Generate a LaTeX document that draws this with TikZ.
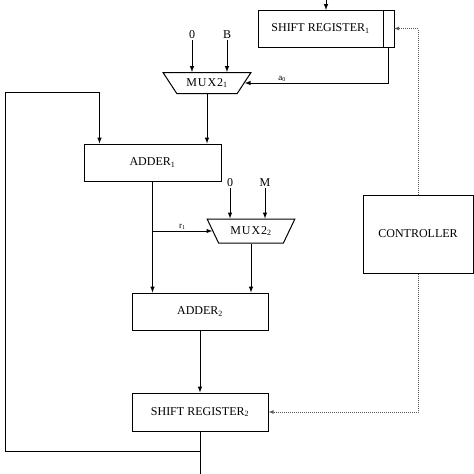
\documentclass[tikz,border=0pt]{standalone}
\usepackage{fontspec}
\setmainfont{Liberation Serif}
\usetikzlibrary{shapes.geometric, calc}
\newcommand{\subidx}[1]{\textsubscript{#1}}

\begin{document}
\begin{tikzpicture}[x = 1pt, y = -1pt, font = \fontsize{12}{14}\selectfont,
  blk/.style = {draw, line width = 1pt, minimum width = 136pt, minimum height = 37pt, inner sep = 0pt},
  mux/.style = {draw, line width = 1pt, trapezium, shape border rotate = 180, trapezium stretches = true,
    inner sep = 0pt, minimum width = 88pt, font = \fontsize{12}{14}\selectfont\addfontfeature{LetterSpace = 8}},
  conn/.style = {line width = 1pt, -latex},
  ctl/.style = {line width = 0.8pt, dash pattern = on 1pt off 1pt, color = gray!70!black, -latex},
  lbl/.style = {inner sep = 1pt, font = \small}]
\useasboundingbox (0, 0) rectangle (474, 474);
%\draw[very thin, color = gray](0, 0) grid[step = 50] (474, 474);
% blocks
\node [blk, outer sep = 0pt, minimum width = 125pt] (sr1) at (320.5, 28.5) {SHIFT REGISTER\subidx{1}};
\node [blk, outer sep = 0pt, minimum width = 11pt, anchor = west] (sr1c) at (sr1.east) {};
\node [blk, minimum width = 137pt] (add1) at (152.5, 162.5) {ADDER\subidx{1}};
\node [blk] (add2) at (200, 311.5) {ADDER\subidx{2}};
\node [blk, minimum height = 38pt] (sr2) at (200, 412) {SHIFT REGISTER\subidx{2}};
\node [blk, minimum width = 110pt, minimum height = 78pt] (ctrl) at (418, 234) {CONTROLLER};
\node [mux, trapezium angle = 46, minimum height = 21pt] (mux1) at (207, 83) {MUX2\subidx{1}};
\node [mux, trapezium angle = 53, minimum height = 24pt] (mux2) at (251, 231) {MUX2\subidx{2}};
% inputs
\node [inner sep = 1pt] (zb) at (192, 35) {0};
\node [inner sep = 1pt] (b) at (227, 35) {B};
\node [inner sep = 1pt] (zm) at (230, 183) {0};
\node [inner sep = 1pt] (m) at (265, 183) {M};
\coordinate (srin) at (326, 0);
\coordinate (out) at (200, 474);
\coordinate (fbl) at (5, 451);
\coordinate (fbt) at (5, 92);
\coordinate (fb) at (sr2.south |- fbl);
\coordinate (r1) at (add1.south |- mux2.west);
% data paths
\draw [conn] (srin) -- (srin |- sr1.north);
\draw [conn] (zb) -- (zb |- mux1.north);
\draw [conn] (b) -- (b |- mux1.north);
\draw [conn] (sr1c.south) |- (mux1.east) node [pos = 0.87, above, lbl] {a\subidx{0}};
\draw [conn] (mux1.south) -- (mux1.south |- add1.north);
\draw [conn] (fb) -- (fbl) -- (fbt) -| ($(add1.north west) + (16, 0)$);
\draw [conn] (add1.south) -- (add1.south |- add2.north);
\draw [conn] (r1) -- (mux2.west) node [midway, above, lbl] {r\subidx{1}};
\draw [conn] (zm) -- (zm |- mux2.north);
\draw [conn] (m) -- (m |- mux2.north);
\draw [conn] (mux2.south) -- (mux2.south |- add2.north);
\draw [conn] (add2.south) -- (sr2.north);
\draw [line width = 1pt] (sr2.south) -- (out);
% control
\draw [ctl] (ctrl.north) |- (sr1c.east);
\draw [ctl] (ctrl.south) |- (sr2.east);
\end{tikzpicture}
\end{document}
